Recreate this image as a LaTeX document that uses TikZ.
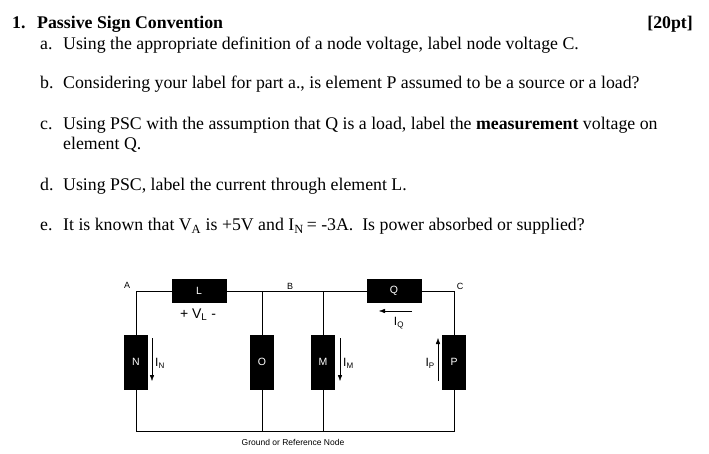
\documentclass[tikz,border=0pt]{standalone}
\usepackage{fontspec}
\setmainfont{Liberation Serif}
\newfontfamily\circfont{Liberation Sans}
\usetikzlibrary{arrows.meta}
\begin{document}
\begin{tikzpicture}[x=1pt,y=-1pt,
 txt/.style={anchor=base west,inner sep=0,font=\fontsize{17.8}{20}\selectfont},
 el/.style={draw,fill=black,text=white,minimum width=23pt,minimum height=54pt,inner sep=0,font=\circfont\fontsize{10.5}{11}\selectfont},
 hel/.style={draw,fill=black,text=white,minimum width=54pt,minimum height=23pt,inner sep=0,font=\circfont\fontsize{10.5}{11}\selectfont},
 lab/.style={inner sep=0,font=\circfont\fontsize{9}{10}\selectfont},
 cur/.style={inner sep=0,font=\circfont\fontsize{12}{13}\selectfont},
 arr/.style={-{Latex[length=6pt,width=4.5pt]}},
 wire/.style={line width=0.8pt}]
\useasboundingbox (0,0) rectangle (709,454);
\node[txt,font=\bfseries\fontsize{17.8}{20}\selectfont] (h) at (12,29) {1.};
\node[txt,font=\bfseries\fontsize{17.8}{20}\selectfont] (h2) at (37,29) {Passive Sign Convention};
\node[txt,font=\bfseries\fontsize{17.8}{20}\selectfont,anchor=base east] (pt) at (693,29) {[20pt]};
\node[txt] (al) at (40,50) {a.}; \node[txt] (a) at (63,50) {Using the appropriate definition of a node voltage, label node voltage C.};
\node[txt] (bl) at (40,89) {b.}; \node[txt] (b) at (63,89) {Considering your label for part a., is element P assumed to be a source or a load?};
\node[txt] (cl) at (40,130) {c.}; \node[txt] (c) at (63,130) {Using PSC with the assumption that Q is a load, label the \textbf{measurement} voltage on};
\node[txt] (c2) at (63,150) {element Q.};
\node[txt] (dl) at (40,191) {d.}; \node[txt] (d) at (63,191) {Using PSC, label the current through element L.};
\node[txt] (el) at (40,231) {e.}; \node[txt] (e) at (63,231) {It is known that V\textsubscript{A} is +5V and I\textsubscript{N}\,= -3A.\ \ Is power absorbed or supplied?};
% circuit
\coordinate (TA) at (136,291); \coordinate (BA) at (136,431);
\coordinate (TO) at (262,291); \coordinate (BO) at (262,431);
\coordinate (TM) at (323,291); \coordinate (BM) at (323,431);
\coordinate (TC) at (454,291); \coordinate (BC) at (454,431);
\draw[wire] (TA) -- (TC) -- (BC) -- (BA) -- cycle;
\draw[wire] (TO) -- (BO); \draw[wire] (TM) -- (BM);
\node[hel] (L) at (199,291) {L};
\node[hel] (Q) at (394,291) {Q};
\node[el] (N) at (136,362) {N};
\node[el] (O) at (262,362) {O};
\node[el] (M) at (323,362) {M};
\node[el] (P) at (454,362) {P};
\node[lab] (lA) at (127,285) {A};
\node[lab] (lB) at (290,286) {B};
\node[lab] (lC) at (460,286) {C};
\node[lab,font=\circfont\fontsize{14}{15}\selectfont] (vl) at (198,315) {+ V\textsubscript{L} -};
\coordinate (n1) at (152,338); \coordinate (n2) at (152,381);
\draw[arr] (n1) -- (n2); \node[cur,anchor=west] (iN) at (155,363) {I\textsubscript{N}};
\coordinate (m1) at (340,338); \coordinate (m2) at (340,381);
\draw[arr] (m1) -- (m2); \node[cur,anchor=west] (iM) at (343,363) {I\textsubscript{M}};
\coordinate (p1) at (438,381); \coordinate (p2) at (438,338);
\draw[arr] (p1) -- (p2); \node[cur,anchor=east] (iP) at (435,363) {I\textsubscript{P}};
\coordinate (q1) at (412,311); \coordinate (q2) at (379,311);
\draw[arr] (q1) -- (q2); \node[cur] (iQ) at (399,323) {I\textsubscript{Q}};
\node[lab,font=\circfont\fontsize{8.5}{9}\selectfont] (g) at (293,442) {Ground or Reference Node};
\end{tikzpicture}
\end{document}
